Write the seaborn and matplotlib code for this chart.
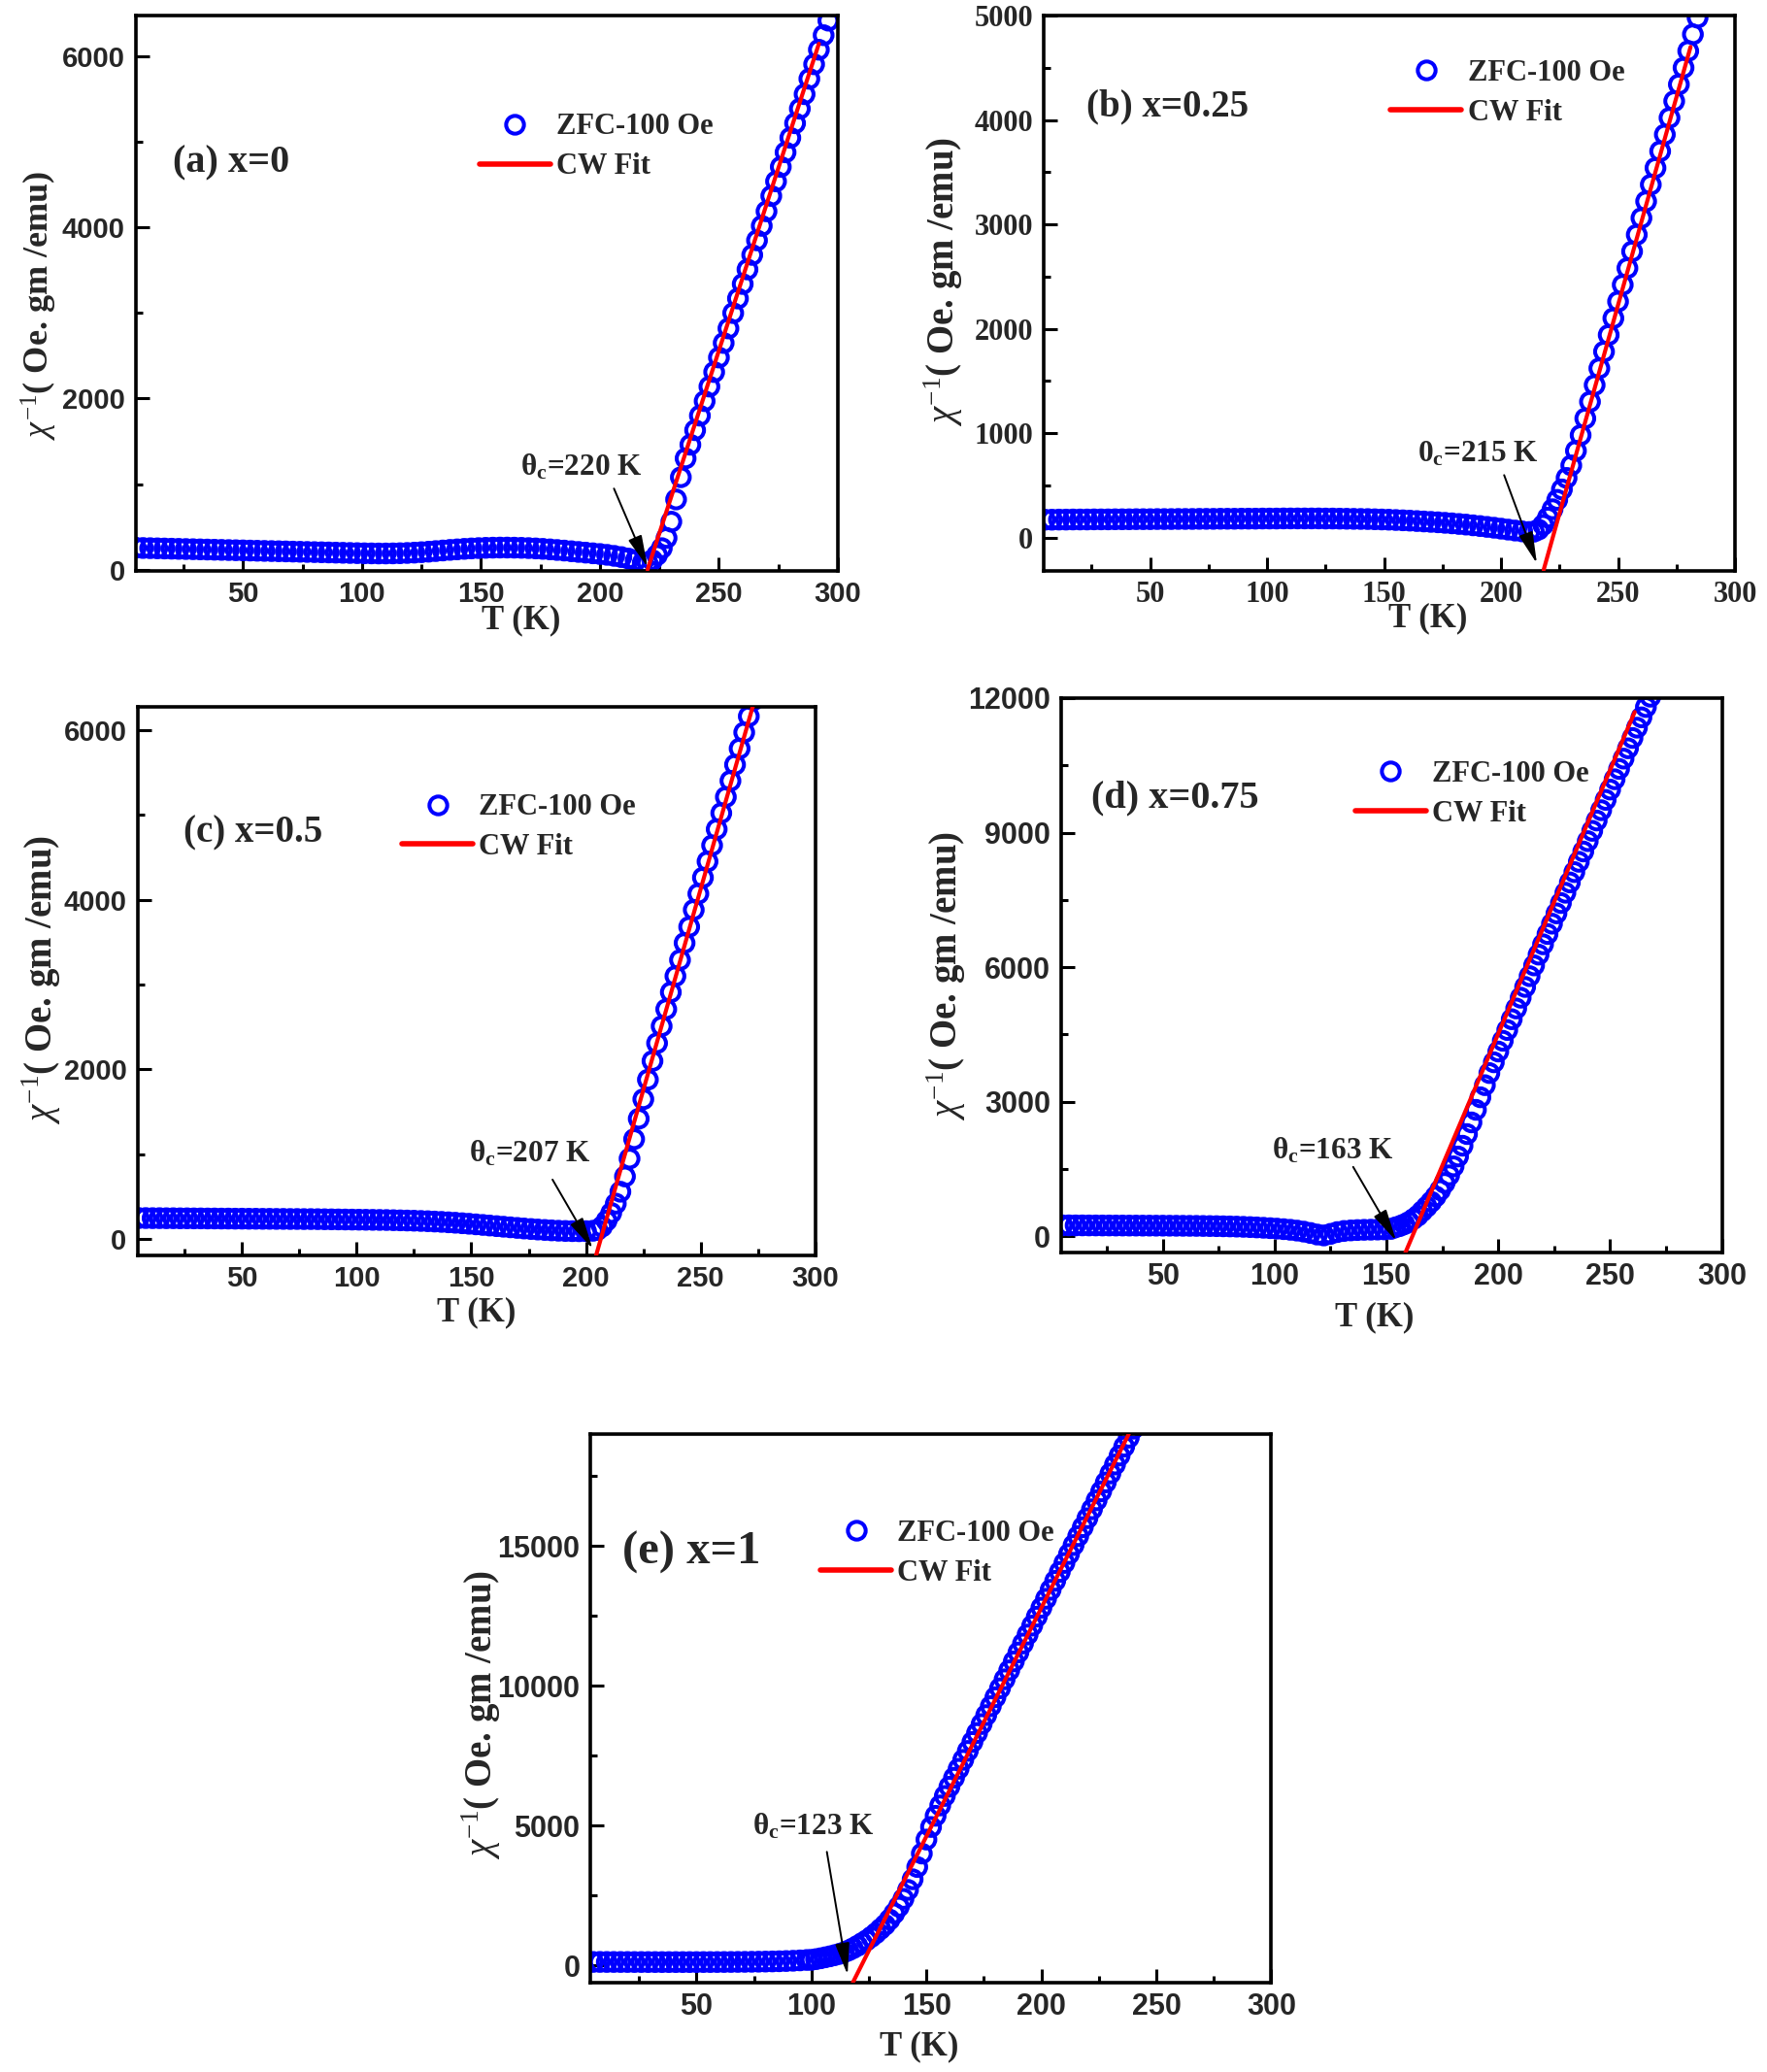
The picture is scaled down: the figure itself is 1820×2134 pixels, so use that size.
import numpy as np
import matplotlib
matplotlib.use("Agg")
import matplotlib.pyplot as plt
import seaborn as sns
from matplotlib.lines import Line2D

# ------------------------------------------------------------------ data
# (a) x = 0
T_a = [5, 8, 11, 14, 17, 20, 23, 26, 29, 32,
       35, 38, 41, 44, 47, 50, 53, 56, 59, 62,
       65, 68, 71, 74, 77, 80, 83, 86, 89, 92,
       95, 98, 101, 104, 107, 110, 113, 116, 119, 122,
       125, 128, 131, 134, 137, 140, 143, 146, 149, 152,
       155, 158, 161, 164, 167, 170, 173, 176, 179, 182,
       185, 188, 191, 194, 197, 200, 203, 206, 209, 212,
       215, 218,
       220, 222, 224, 226, 228, 230, 232, 234, 236, 238,
       240, 242, 244, 246, 248, 250, 252, 254, 256, 258,
       260, 262, 264, 266, 268, 270, 272, 274, 276, 278,
       280, 282, 284, 286, 288, 290, 292, 294, 296, 298]
chi_a = [255, 252, 250, 248, 246, 244, 242, 240, 238, 236,
         234, 232, 230, 228, 226, 224, 222, 220, 218, 216,
         214, 212, 210, 208, 206, 204, 202, 200, 198, 196,
         194, 192, 190, 189, 188, 188, 189, 191, 194, 198,
         203, 209, 216, 223, 230, 236, 242, 247, 251, 254,
         256, 257, 257, 256, 254, 251, 247, 242, 236, 229,
         222, 214, 206, 198, 190, 182, 172, 160, 146, 128,
         105, 80,
         75, 110, 170, 250, 370, 560, 820, 1080, 1300, 1460,
         1630, 1800, 1970, 2140, 2310, 2480, 2650, 2820, 3000, 3170,
         3340, 3510, 3680, 3850, 4020, 4190, 4370, 4540, 4710, 4880,
         5050, 5220, 5390, 5560, 5740, 5910, 6080, 6250, 6420, 6590]
fitT_a = [220, 292]
fitchi_a = [0, 6150]

# (b) x = 0.25
T_b = [5, 8, 11, 14, 17, 20, 23, 26, 29, 32,
       35, 38, 41, 44, 47, 50, 53, 56, 59, 62,
       65, 68, 71, 74, 77, 80, 83, 86, 89, 92,
       95, 98, 101, 104, 107, 110, 113, 116, 119, 122,
       125, 128, 131, 134, 137, 140, 143, 146, 149, 152,
       155, 158, 161, 164, 167, 170, 173, 176, 179, 182,
       185, 188, 191, 194, 197, 200, 203, 206, 209, 212,
       214, 216, 218, 220, 222, 224, 226, 228, 230, 232,
       234, 236, 238, 240, 242, 244, 246, 248, 250, 252,
       254, 256, 258, 260, 262, 264, 266, 268, 270, 272,
       274, 276, 278, 280, 282, 284]
chi_b = [170, 170, 171, 171, 172, 172, 172, 173, 173, 173,
         174, 174, 174, 175, 175, 175, 176, 176, 176, 177,
         177, 177, 178, 178, 178, 179, 179, 179, 180, 180,
         180, 181, 181, 181, 182, 182, 182, 182, 182, 182,
         181, 181, 180, 179, 178, 177, 176, 174, 172, 170,
         167, 164, 161, 157, 153, 149, 145, 140, 135, 129,
         123, 116, 109, 101, 93, 84, 75, 66, 58, 52,
         55, 75, 120, 190, 270, 360, 460, 570, 690, 830,
         980, 1140, 1300, 1460, 1620, 1780, 1940, 2100, 2260, 2420,
         2580, 2740, 2900, 3060, 3220, 3380, 3540, 3700, 3860, 4020,
         4180, 4340, 4500, 4660, 4820, 4980]
fitT_b = [218.2, 281]
fitchi_b = [-310, 4700]

# (c) x = 0.5
T_c = [5, 8, 11, 14, 17, 20, 23, 26, 29, 32,
       35, 38, 41, 44, 47, 50, 53, 56, 59, 62,
       65, 68, 71, 74, 77, 80, 83, 86, 89, 92,
       95, 98, 101, 104, 107, 110, 113, 116, 119, 122,
       125, 128, 131, 134, 137, 140, 143, 146, 149, 152,
       155, 158, 161, 164, 167, 170, 173, 176, 179, 182,
       185, 188, 191, 194, 197, 200, 203,
       205, 207, 209, 211, 213, 215, 217, 219, 221, 223,
       225, 227, 229, 231, 233, 235, 237, 239, 241, 243,
       245, 247, 249, 251, 253, 255, 257, 259, 261, 263,
       265, 267, 269, 271, 273]
chi_c = [250, 250, 249, 249, 248, 248, 247, 247, 246, 246,
         245, 245, 244, 244, 243, 243, 242, 242, 241, 241,
         240, 240, 239, 239, 238, 238, 237, 236, 235, 234,
         233, 232, 231, 230, 229, 228, 227, 225, 223, 221,
         219, 216, 213, 209, 205, 200, 195, 189, 183, 176,
         169, 162, 155, 148, 141, 134, 127, 121, 115, 110,
         105, 101, 98, 96, 95, 96, 100,
         110, 150, 220, 310, 420, 560, 740, 950, 1180, 1420,
         1650, 1880, 2100, 2310, 2510, 2710, 2910, 3100, 3290, 3490,
         3680, 3880, 4070, 4260, 4450, 4640, 4830, 5020, 5210, 5400,
         5590, 5780, 5970, 6160, 6350]
fitT_c = [204.4, 273]
fitchi_c = [-190, 6300]

# (d) x = 0.75
T_d = [5, 8, 11, 14, 17, 20, 23, 26, 29, 32,
       35, 38, 41, 44, 47, 50, 53, 56, 59, 62,
       65, 68, 71, 74, 77, 80, 83, 86, 89, 92,
       95, 98, 101, 104, 107, 110, 113, 116, 119, 122,
       125, 128, 131, 134, 137, 140, 143, 146, 149, 152,
       154, 156, 158, 160, 162, 164, 166, 168, 170, 172,
       174, 176, 178, 180, 182, 184, 186, 188, 190, 192,
       194, 196, 198, 200, 202, 204, 206, 208, 210, 212,
       214, 216, 218, 220, 222, 224, 226, 228, 230, 232,
       234, 236, 238, 240, 242, 244, 246, 248, 250, 252,
       254, 256, 258, 260, 262, 264, 266, 268]
chi_d = [245, 245, 244, 244, 243, 243, 242, 242, 241, 241,
         240, 240, 239, 239, 238, 238, 237, 236, 235, 234,
         233, 231, 229, 227, 224, 221, 217, 212, 206, 199,
         191, 182, 172, 160, 146, 128, 105, 75, 40, 20,
         55, 95, 120, 132, 140, 145, 148, 151, 155, 165,
         200, 230, 270, 320, 385, 460, 560, 660, 770, 890,
         1030, 1190, 1360, 1560, 1780, 2020, 2280, 2540, 2820, 3100,
         3370, 3640, 3880, 4120, 4360, 4600, 4840, 5080, 5320, 5560,
         5800, 6040, 6280, 6510, 6740, 6970, 7200, 7430, 7660, 7890,
         8120, 8350, 8580, 8810, 9040, 9270, 9500, 9730, 9960, 10190,
         10420, 10650, 10880, 11110, 11340, 11570, 11800, 12030]
fitT_d = [158.4, 261]
fitchi_d = [-370, 11690]

# (e) x = 1
T_e = [5, 8, 11, 14, 17, 20, 23, 26, 29, 32,
       35, 38, 41, 44, 47, 50, 53, 56, 59, 62,
       65, 68, 71, 74, 77, 80, 83, 86, 89, 92,
       95, 98,
       100, 102, 104, 106, 108, 110, 112, 114, 116, 118,
       120, 122, 124, 126, 128, 130, 132, 134, 136, 138,
       140, 142, 144, 146, 148, 150, 152, 154, 156, 158,
       160, 162, 164, 166, 168, 170, 172, 174, 176, 178,
       180, 182, 184, 186, 188, 190, 192, 194, 196, 198,
       200, 202, 204, 206, 208, 210, 212, 214, 216, 218,
       220, 222, 224, 226, 228, 230, 232, 234, 236, 238,
       240]
chi_e = [125, 125, 124, 124, 123, 123, 122, 122, 121, 121,
         120, 120, 120, 120, 120, 120, 121, 121, 122, 123,
         124, 126, 128, 131, 134, 138, 143, 149, 157, 167,
         180, 195,
         200, 225, 255, 290, 325, 365, 410, 465, 530, 610,
         700, 800, 900, 1020, 1150, 1300, 1450, 1640, 1860, 2100,
         2380, 2700, 3080, 3520, 4000, 4500, 4950, 5350, 5720, 6060,
         6390, 6710, 7030, 7350, 7670, 7990, 8310, 8630, 8950, 9270,
         9590, 9910, 10230, 10550, 10870, 11190, 11510, 11830, 12150, 12470,
         12790, 13110, 13430, 13750, 14070, 14390, 14710, 15030, 15350, 15670,
         15990, 16310, 16630, 16950, 17270, 17590, 17910, 18230, 18550, 18870,
         19190]
fitT_e = [118, 238]
fitchi_e = [-610, 19000]

X_TICKS = [50, 100, 150, 200, 250, 300]
X_MINOR = [25, 75, 125, 175, 225, 275]

PANEL_LABELS = ["(a) x=0", "(b) x=0.25", "(c) x=0.5", "(d) x=0.75", "(e) x=1"]
THETA_LABELS = ["θ$_\\mathbf{c}$=220 K", "0$_\\mathbf{c}$=215 K", "θ$_\\mathbf{c}$=207 K",
                "θ$_\\mathbf{c}$=163 K", "θ$_\\mathbf{c}$=123 K"]
Y_TICKS = [[0, 2000, 4000, 6000],
           [0, 1000, 2000, 3000, 4000, 5000],
           [0, 2000, 4000, 6000],
           [0, 3000, 6000, 9000, 12000],
           [0, 5000, 10000, 15000]]
Y_MINOR = [[1000, 3000, 5000],
           [500, 1500, 2500, 3500, 4500],
           [1000, 3000, 5000],
           [1500, 4500, 7500, 10500],
           [2500, 7500, 12500, 17500]]
LEGEND_LABELS = ["ZFC-100 Oe", "CW Fit"]
XLABEL = "T (K)"
YLABEL = "$\\chi^{-1}$( Oe. gm /emu)"

# ------------------------------------------------------------------ style
sns.set_style("ticks")
plt.rcParams["font.family"] = ["Liberation Serif", "DejaVu Serif"]
plt.rcParams["mathtext.fontset"] = "custom"
plt.rcParams["mathtext.rm"] = "Liberation Serif"
plt.rcParams["mathtext.it"] = "Liberation Serif:italic"
plt.rcParams["mathtext.bf"] = "Liberation Serif:bold"

BLUE = "#0000FF"
RED = "#FF0000"
SERIF = "Liberation Serif"
SANS = "Liberation Sans"

panels = [
    dict(T=T_a, chi=chi_a, fT=fitT_a, fchi=fitchi_a,
         rect=[0.0769, 0.7245, 0.3973, 0.2680], xlim=(5, 300), ylim=(-15, 6480),
         tickfont=SANS, ticksize=21,
         lab_xy=(20.7, 4750), lab_size=29,
         th_xy=(192, 1193), arr_from=(205.9, 947), arr_to=(220, 30),
         leg_anchor=(0.489, 0.8245),
         xlab=(0.549, -0.089), ylab=(-0.138, 0.478), ylab_size=26),
    dict(T=T_b, chi=chi_b, fT=fitT_b, fchi=fitchi_b,
         rect=[0.5907, 0.7245, 0.3912, 0.2680], xlim=(4.5, 300), ylim=(-320, 5000),
         tickfont=SERIF, ticksize=22,
         lab_xy=(22.6, 4128), lab_size=28,
         th_xy=(190, 798), arr_from=(201.3, 597), arr_to=(215.3, -250),
         leg_anchor=(0.5014, 0.9216),
         xlab=(0.555, -0.086), ylab=(-0.145, 0.521), ylab_size=28),
    dict(T=T_c, chi=chi_c, fT=fitT_c, fchi=fitchi_c,
         rect=[0.0778, 0.3941, 0.3836, 0.2647], xlim=(4.4, 300), ylim=(-190, 6270),
         tickfont=SANS, ticksize=21,
         lab_xy=(24.4, 4783), lab_size=28,
         th_xy=(175.6, 1009), arr_from=(185.4, 703), arr_to=(202.9, -112),
         leg_anchor=(0.390, 0.8423),
         xlab=(0.5, -0.1036), ylab=(-0.142, 0.503), ylab_size=28),
    dict(T=T_d, chi=chi_d, fT=fitT_d, fchi=fitchi_d,
         rect=[0.6005, 0.3953, 0.3740, 0.2678], xlim=(4.5, 300), ylim=(-370, 12000),
         tickfont=SANS, ticksize=22,
         lab_xy=(18, 9765), lab_size=29,
         th_xy=(126, 1916), arr_from=(135.1, 1548), arr_to=(154.3, -97),
         leg_anchor=(0.445, 0.8886),
         xlab=(0.474, -0.1165), ylab=(-0.174, 0.500), ylab_size=28),
    dict(T=T_e, chi=chi_e, fT=fitT_e, fchi=fitchi_e,
         rect=[0.3343, 0.0432, 0.3852, 0.2647], xlim=(4.0, 300), ylim=(-610, 19000),
         tickfont=SANS, ticksize=22,
         lab_xy=(17.9, 14755), lab_size=35,
         th_xy=(101, 4970), arr_from=(106.7, 4061), arr_to=(115.7, -333),
         leg_anchor=(0.3375, 0.8438),
         xlab=(0.482, -0.117), ylab=(-0.161, 0.488), ylab_size=28),
]

fig = plt.figure(figsize=(18.2, 21.34), dpi=100)

for i, p in enumerate(panels):
    ax = fig.add_axes(p["rect"])
    n = min(len(p["T"]), len(p["chi"]))
    sns.scatterplot(x=p["T"][:n], y=p["chi"][:n], ax=ax, marker="o", s=175,
                    facecolors="none", edgecolor=BLUE, linewidth=2.9,
                    legend=False, zorder=2)
    sns.lineplot(x=p["fT"], y=p["fchi"], ax=ax, color=RED, linewidth=3.0,
                 legend=False, zorder=3)

    ax.set_xlim(*p["xlim"])
    ax.set_ylim(*p["ylim"])
    ax.set_xlabel("")
    ax.set_ylabel("")

    ax.set_xticks(X_TICKS, [str(v) for v in X_TICKS],
                  fontfamily=p["tickfont"], fontweight="bold", fontsize=p["ticksize"])
    ax.set_xticks(X_MINOR, minor=True)
    yt = Y_TICKS[i]
    ax.set_yticks(yt, [str(v) for v in yt],
                  fontfamily=p["tickfont"], fontweight="bold", fontsize=p["ticksize"])
    ax.set_yticks(Y_MINOR[i], minor=True)
    ax.tick_params(which="both", direction="in", top=False, right=False,
                   width=2.2, color="black")
    ax.tick_params(which="major", length=10)
    ax.tick_params(which="minor", length=5)
    ax.tick_params(axis="x", which="major", pad=7)
    ax.tick_params(axis="y", which="major", pad=8)
    for sp in ax.spines.values():
        sp.set_linewidth(2.6)
        sp.set_color("black")
        sp.set_visible(True)

    # axis labels
    ax.text(p["xlab"][0], p["xlab"][1], XLABEL, transform=ax.transAxes,
            ha="center", va="center", fontsize=25, fontweight="bold", family=SERIF)
    ax.text(p["ylab"][0], p["ylab"][1], YLABEL, transform=ax.transAxes,
            ha="center", va="center", rotation=90, fontsize=p["ylab_size"],
            fontweight="bold", family=SERIF)

    # panel label
    ax.text(p["lab_xy"][0], p["lab_xy"][1], PANEL_LABELS[i], ha="left", va="center",
            fontsize=p["lab_size"], fontweight="bold", family=SERIF)

    # theta_c annotation with arrow
    ax.text(p["th_xy"][0], p["th_xy"][1], THETA_LABELS[i], ha="center", va="center",
            fontsize=22.5, fontweight="bold", family=SERIF)
    ax.annotate("", xy=p["arr_to"], xytext=p["arr_from"],
                arrowprops=dict(arrowstyle="-|>,head_length=0.8,head_width=0.18",
                                color="black", lw=1.4, shrinkA=0, shrinkB=0,
                                mutation_scale=25),
                annotation_clip=False, zorder=5)

    # legend
    handles = [
        Line2D([], [], ls="none", marker="o", markersize=13.2, markerfacecolor="none",
               markeredgecolor=BLUE, markeredgewidth=2.9, label=LEGEND_LABELS[0]),
        Line2D([], [], color=RED, lw=4.0, label=LEGEND_LABELS[1]),
    ]
    ax.legend(handles=handles, loc="upper left", bbox_to_anchor=p["leg_anchor"],
              frameon=False, borderpad=0, borderaxespad=0, handlelength=2.4,
              handletextpad=0.2, labelspacing=0.39,
              prop={"family": SERIF, "weight": "bold", "size": 22})

fig.savefig("out.png", dpi=100, facecolor="white")
